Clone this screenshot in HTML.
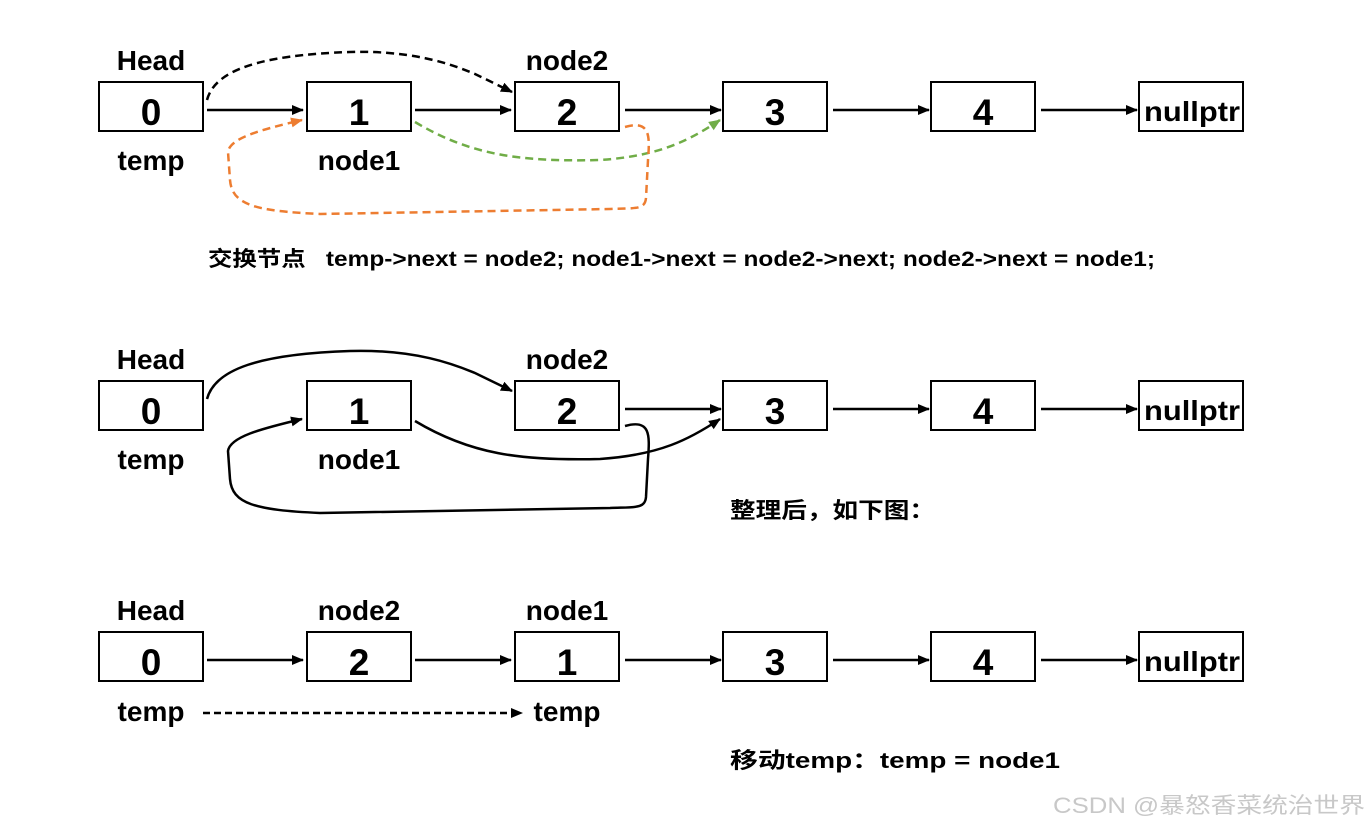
<!DOCTYPE html>
<html><head><meta charset="utf-8"><style>
body{margin:0;background:#fff}
svg text{font-family:"Liberation Sans","Noto Sans CJK SC",sans-serif;font-weight:bold}
</style></head><body>
<svg width="1370" height="829" viewBox="0 0 1370 829" xmlns="http://www.w3.org/2000/svg">
<defs>
<marker id="a" markerWidth="12" markerHeight="12" refX="11" refY="6" orient="auto" markerUnits="userSpaceOnUse"><path d="M0,1 L12,6 L0,11 z" fill="#000"/></marker>
<marker id="ag" markerWidth="12" markerHeight="12" refX="11" refY="6" orient="auto" markerUnits="userSpaceOnUse"><path d="M0,1 L12,6 L0,11 z" fill="#70ad47"/></marker>
<marker id="ao" markerWidth="12" markerHeight="12" refX="11" refY="6" orient="auto" markerUnits="userSpaceOnUse"><path d="M0,1 L12,6 L0,11 z" fill="#ed7d31"/></marker>
<g id="row">
<rect x="99" y="82" width="104" height="49" fill="#fff" stroke="#000" stroke-width="2"/>
<rect x="307" y="82" width="104" height="49" fill="#fff" stroke="#000" stroke-width="2"/>
<rect x="515" y="82" width="104" height="49" fill="#fff" stroke="#000" stroke-width="2"/>
<rect x="723" y="82" width="104" height="49" fill="#fff" stroke="#000" stroke-width="2"/>
<rect x="931" y="82" width="104" height="49" fill="#fff" stroke="#000" stroke-width="2"/>
<rect x="1139" y="82" width="104" height="49" fill="#fff" stroke="#000" stroke-width="2"/>
<line x1="625" y1="110" x2="721" y2="110" stroke="#000" stroke-width="2.5" marker-end="url(#a)"/>
<line x1="833" y1="110" x2="929" y2="110" stroke="#000" stroke-width="2.5" marker-end="url(#a)"/>
<line x1="1041" y1="110" x2="1137" y2="110" stroke="#000" stroke-width="2.5" marker-end="url(#a)"/>
<text x="775" y="125" font-size="37" text-anchor="middle">3</text>
<text x="983" y="125" font-size="37" text-anchor="middle">4</text>
<text x="1144" y="121" font-size="28" textLength="96" lengthAdjust="spacingAndGlyphs">nullptr</text>
<text x="151" y="125" font-size="37" text-anchor="middle">0</text>
</g>
</defs>
<!-- Row 1 -->
<use href="#row"/>
<line x1="207" y1="110" x2="303" y2="110" stroke="#000" stroke-width="2.5" marker-end="url(#a)"/>
<line x1="415" y1="110" x2="511" y2="110" stroke="#000" stroke-width="2.5" marker-end="url(#a)"/>
<text x="359" y="125" font-size="37" text-anchor="middle">1</text>
<text x="567" y="125" font-size="37" text-anchor="middle">2</text>
<g font-size="28" text-anchor="middle">
<text x="151" y="70">Head</text><text x="567" y="70">node2</text>
<text x="151" y="170">temp</text><text x="359" y="170">node1</text>
</g>
<path d="M207,100 C215,70 260,55 350,52 C420,50 460,68 475,74 L512,92" fill="none" stroke="#000" stroke-width="2.5" stroke-dasharray="8,5" marker-end="url(#a)"/>
<path d="M415,122 C470,155 520,162 600,160 C660,156 690,140 720,120" fill="none" stroke="#70ad47" stroke-width="2.5" stroke-dasharray="8,5" marker-end="url(#ag)"/>
<path d="M625,127 C650,120 650,135 648,160 L646,198 C645,210 635,208 610,209 L320,214 C255,211 232,205 230,180 L228,152 C230,138 260,130 302,120" fill="none" stroke="#ed7d31" stroke-width="2.5" stroke-dasharray="8,5" marker-end="url(#ao)"/>
<text x="208" y="266" font-size="21" textLength="947" lengthAdjust="spacingAndGlyphs">交换节点&#160;&#160;&#160;temp-&gt;next = node2; node1-&gt;next = node2-&gt;next; node2-&gt;next = node1;</text>
<!-- Row 2 -->
<g transform="translate(0,299)">
<use href="#row"/>
<text x="359" y="125" font-size="37" text-anchor="middle">1</text>
<text x="567" y="125" font-size="37" text-anchor="middle">2</text>
<g font-size="28" text-anchor="middle">
<text x="151" y="70">Head</text><text x="567" y="70">node2</text>
<text x="151" y="170">temp</text><text x="359" y="170">node1</text>
</g>
<path d="M207,100 C215,70 260,55 350,52 C420,50 460,68 475,74 L512,92" fill="none" stroke="#000" stroke-width="2.5" marker-end="url(#a)"/>
<path d="M415,122 C470,155 520,162 600,160 C660,156 690,140 720,120" fill="none" stroke="#000" stroke-width="2.5" marker-end="url(#a)"/>
<path d="M625,127 C650,120 650,135 648,160 L646,198 C645,210 635,208 610,209 L320,214 C255,211 232,205 230,180 L228,152 C230,138 260,130 302,120" fill="none" stroke="#000" stroke-width="2.5" marker-end="url(#a)"/>
</g>
<text x="730" y="518" font-size="22" textLength="205" lengthAdjust="spacingAndGlyphs">整理后，如下图：</text>
<!-- Row 3 -->
<g transform="translate(0,550)">
<use href="#row"/>
<line x1="207" y1="110" x2="303" y2="110" stroke="#000" stroke-width="2.5" marker-end="url(#a)"/>
<line x1="415" y1="110" x2="511" y2="110" stroke="#000" stroke-width="2.5" marker-end="url(#a)"/>
<text x="359" y="125" font-size="37" text-anchor="middle">2</text>
<text x="567" y="125" font-size="37" text-anchor="middle">1</text>
<g font-size="28" text-anchor="middle">
<text x="151" y="70">Head</text><text x="359" y="70">node2</text><text x="567" y="70">node1</text>
<text x="151" y="171">temp</text><text x="567" y="171">temp</text>
</g>
<line x1="203" y1="163" x2="522" y2="163" stroke="#000" stroke-width="2.5" stroke-dasharray="7,4" marker-end="url(#a)"/>
</g>
<text x="730" y="768" font-size="22" textLength="330" lengthAdjust="spacingAndGlyphs">移动temp：temp = node1</text>
<text x="1053" y="813" font-size="22" fill="#c8c8c8" style="font-weight:normal" textLength="312" lengthAdjust="spacingAndGlyphs">CSDN @暴怒香菜统治世界</text>
</svg>
</body></html>
